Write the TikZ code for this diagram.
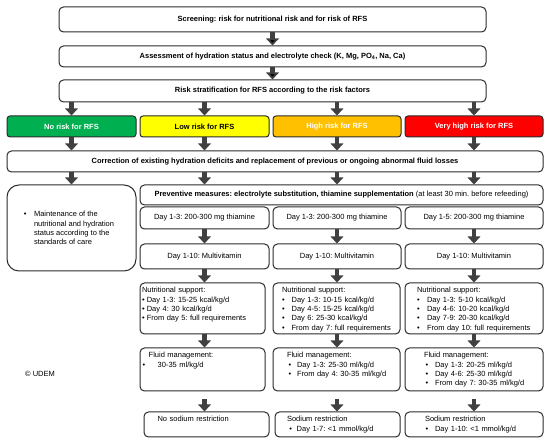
\documentclass[tikz,border=0pt]{standalone}
\usepackage{fontspec}
\setmainfont{Liberation Sans}
\usepackage{tikz}
\usetikzlibrary{arrows.meta}
\frenchspacing

\definecolor{edge}{HTML}{2B2B2B}
\definecolor{fatgray}{HTML}{404040}
\definecolor{norisk}{HTML}{00B050}
\definecolor{lowrisk}{HTML}{FFFF00}
\definecolor{highrisk}{HTML}{FFC000}
\definecolor{vhighrisk}{HTML}{FF0000}
\newcommand{\sz}{\fontsize{7.5pt}{9.3pt}\selectfont}
\newcommand{\bu}[2]{\hspace*{#1}\textbullet\hspace{#2}}

\begin{document}
\begin{tikzpicture}[x=1pt,y=-1pt,
  box/.style={draw=edge,line width=1pt,rounded corners=4.5pt,fill=white,inner sep=0pt,font=\sz},
  bar/.style={box,font=\sz\bfseries,minimum width=427pt,minimum height=#1},
  risk/.style={box,font=\sz\bfseries,fill=#1,text=white,rounded corners=3pt,minimum height=21pt},
  cell/.style={box,minimum height=#1},
  lst/.style={box,align=left,text width=#1,inner xsep=2pt,inner ysep=3pt,text height=7pt},
  fat/.style={draw=fatgray,line width=4.8pt,-{Triangle[width=12.5pt,length=7pt]}}]

\useasboundingbox (0,0) rectangle (550,443);

% top bars
\node[bar=25pt] (scr) at (272.5,19.5) {Screening: risk for nutritional risk and for risk of RFS};
\node[bar=21pt] (ass) at (272.5,56.5) {Assessment of hydration status and electrolyte check (K, Mg, PO\textsubscript{4}, Na, Ca)};
\node[bar=22pt] (strat) at (272.5,91) {Risk stratification for RFS according to the risk factors};

% risk groups
\node[risk=norisk,minimum width=129pt] (grn) at (71.5,126.5) {No risk for RFS};
\node[risk=lowrisk,minimum width=129pt,text=black] (yel) at (204.5,126.5) {Low risk for RFS};
\node[risk=highrisk,minimum width=128pt] (org) at (337,126.5) {High risk for RFS};
\node[risk=vhighrisk,minimum width=138pt] (red) at (474,126.5) {Very high risk for RFS};

\node[box,font=\sz\bfseries,minimum width=536pt,minimum height=21pt] (corr) at (275,161.5) {Correction of existing hydration deficits and replacement of previous or ongoing abnormal fluid losses};

\node[box,rounded corners=12pt,minimum width=129pt,minimum height=86pt] (maint) at (71.5,228)
  {\textbullet\hspace{7.4pt}\parbox[t]{85pt}{Maintenance of the\\nutritional and hydration\\status according to the\\standards of care}};
\node[box,minimum width=403pt,minimum height=20pt] (prev) at (341.5,195)
  {\textbf{Preventive measures: electrolyte substitution, thiamine supplementation} (at least 30 min. before refeeding)};

% thiamine and vitamins
\node[cell=22pt,minimum width=129pt] (tA) at (204.5,218) {Day 1-3: 200-300 mg thiamine};
\node[cell=22pt,minimum width=128pt] (tB) at (337,218) {Day 1-3: 200-300 mg thiamine};
\node[cell=22pt,minimum width=138pt] (tC) at (474,218) {Day 1-5: 200-300 mg thiamine};
\node[cell=25pt,minimum width=129pt] (mA) at (204.5,256.5) {Day 1-10: Multivitamin};
\node[cell=25pt,minimum width=128pt] (mB) at (337,256.5) {Day 1-10: Multivitamin};
\node[cell=25pt,minimum width=138pt] (mC) at (474,256.5) {Day 1-10: Multivitamin};

% nutrition
\node[lst=121pt,text depth=38pt] (nA) at (202.5,308.5)
  {Nutritional support:\\ \bu{0pt}{2.2pt}Day 1-3: 15-25 kcal/kg/d\\ \bu{0pt}{2.2pt}Day 4: 30 kcal/kg/d\\ \bu{0pt}{2.2pt}From day 5: full requirements};
\node[lst=123pt,text depth=38pt] (nB) at (336.5,308.5)
  {\hspace*{7pt}Nutritional support:\\ \bu{7pt}{7pt}Day 1-3: 10-15 kcal/kg/d\\ \bu{7pt}{7pt}Day 4-5: 15-25 kcal/kg/d\\ \bu{7pt}{7pt}Day 6: 25-30 kcal/kg/d\\ \bu{7pt}{7pt}From day 7: full requirements};
\node[lst=134pt,text depth=38pt] (nC) at (474,308.5)
  {\hspace*{10pt}Nutritional support:\\ \bu{10pt}{7.4pt}Day 1-3: 5-10 kcal/kg/d\\ \bu{10pt}{7.4pt}Day 4-6: 10-20 kcal/kg/d\\ \bu{10pt}{7.4pt}Day 7-9: 20-30 kcal/kg/d\\ \bu{10pt}{7.4pt}From day 10: full requirements};

% fluids
\node[lst=121pt,text depth=30pt] (fA) at (202.5,369.5)
  {\hspace*{6.7pt}Fluid management:\\ \bu{0.5pt}{12.6pt}30-35 ml/kg/d};
\node[lst=123pt,text depth=30pt] (fB) at (336.5,369.5)
  {\hspace*{12pt}Fluid management:\\ \bu{13.7pt}{5.7pt}Day 1-3: 25-30 ml/kg/d\\ \bu{13.7pt}{5.7pt}From day 4: 30-35 ml/kg/d};
\node[lst=134pt,text depth=30pt] (fC) at (474,369.5)
  {\hspace*{17pt}Fluid management:\\ \bu{18.7pt}{6.7pt}Day 1-3: 20-25 ml/kg/d\\ \bu{18.7pt}{6.7pt}Day 4-6: 25-30 ml/kg/d\\ \bu{18.7pt}{6.7pt}From day 7: 30-35 ml/kg/d};

% sodium
\node[lst=121pt,text depth=12pt] (sA) at (206.5,424.5) {\hspace*{11.5pt}No sodium restriction};
\node[lst=121pt,text depth=12pt] (sB) at (337.5,424.5)
  {\hspace*{10pt}Sodium restriction\\ \bu{12.4pt}{4.7pt}Day 1-7: <1 mmol/kg/d};
\node[lst=134pt,text depth=12pt] (sC) at (474,424.5)
  {\hspace*{18pt}Sodium restriction\\ \bu{18.7pt}{6.7pt}Day 1-10: <1 mmol/kg/d};

\node[font=\sz,anchor=west,inner sep=0pt] (udem) at (25,374) {\textcopyright\ UDEM};

% block arrows
\path[fat] (scr) edge (ass) (ass) edge (strat);
\foreach \r in {grn,yel,org,red} {
  \draw[fat] (strat.south -| \r) -- (\r.north);
  \draw[fat] (\r.south) -- (corr.north -| \r);
}
\draw[fat] (corr.south -| maint) -- (maint.north);
\foreach \r in {yel,org,red}
  \draw[fat] (corr.south -| \r) -- (prev.north -| \r);
\foreach \c in {A,B,C} {
  \draw[fat] (t\c) -- (m\c);
  \draw[fat] (m\c.south) -- (m\c.south |- n\c.north);
  \draw[fat] (n\c.south -| m\c) -- (m\c |- f\c.north);
  \draw[fat] ([yshift=-8pt]f\c.south -| m\c) -- (m\c |- s\c.north);
}

\end{tikzpicture}
\end{document}
